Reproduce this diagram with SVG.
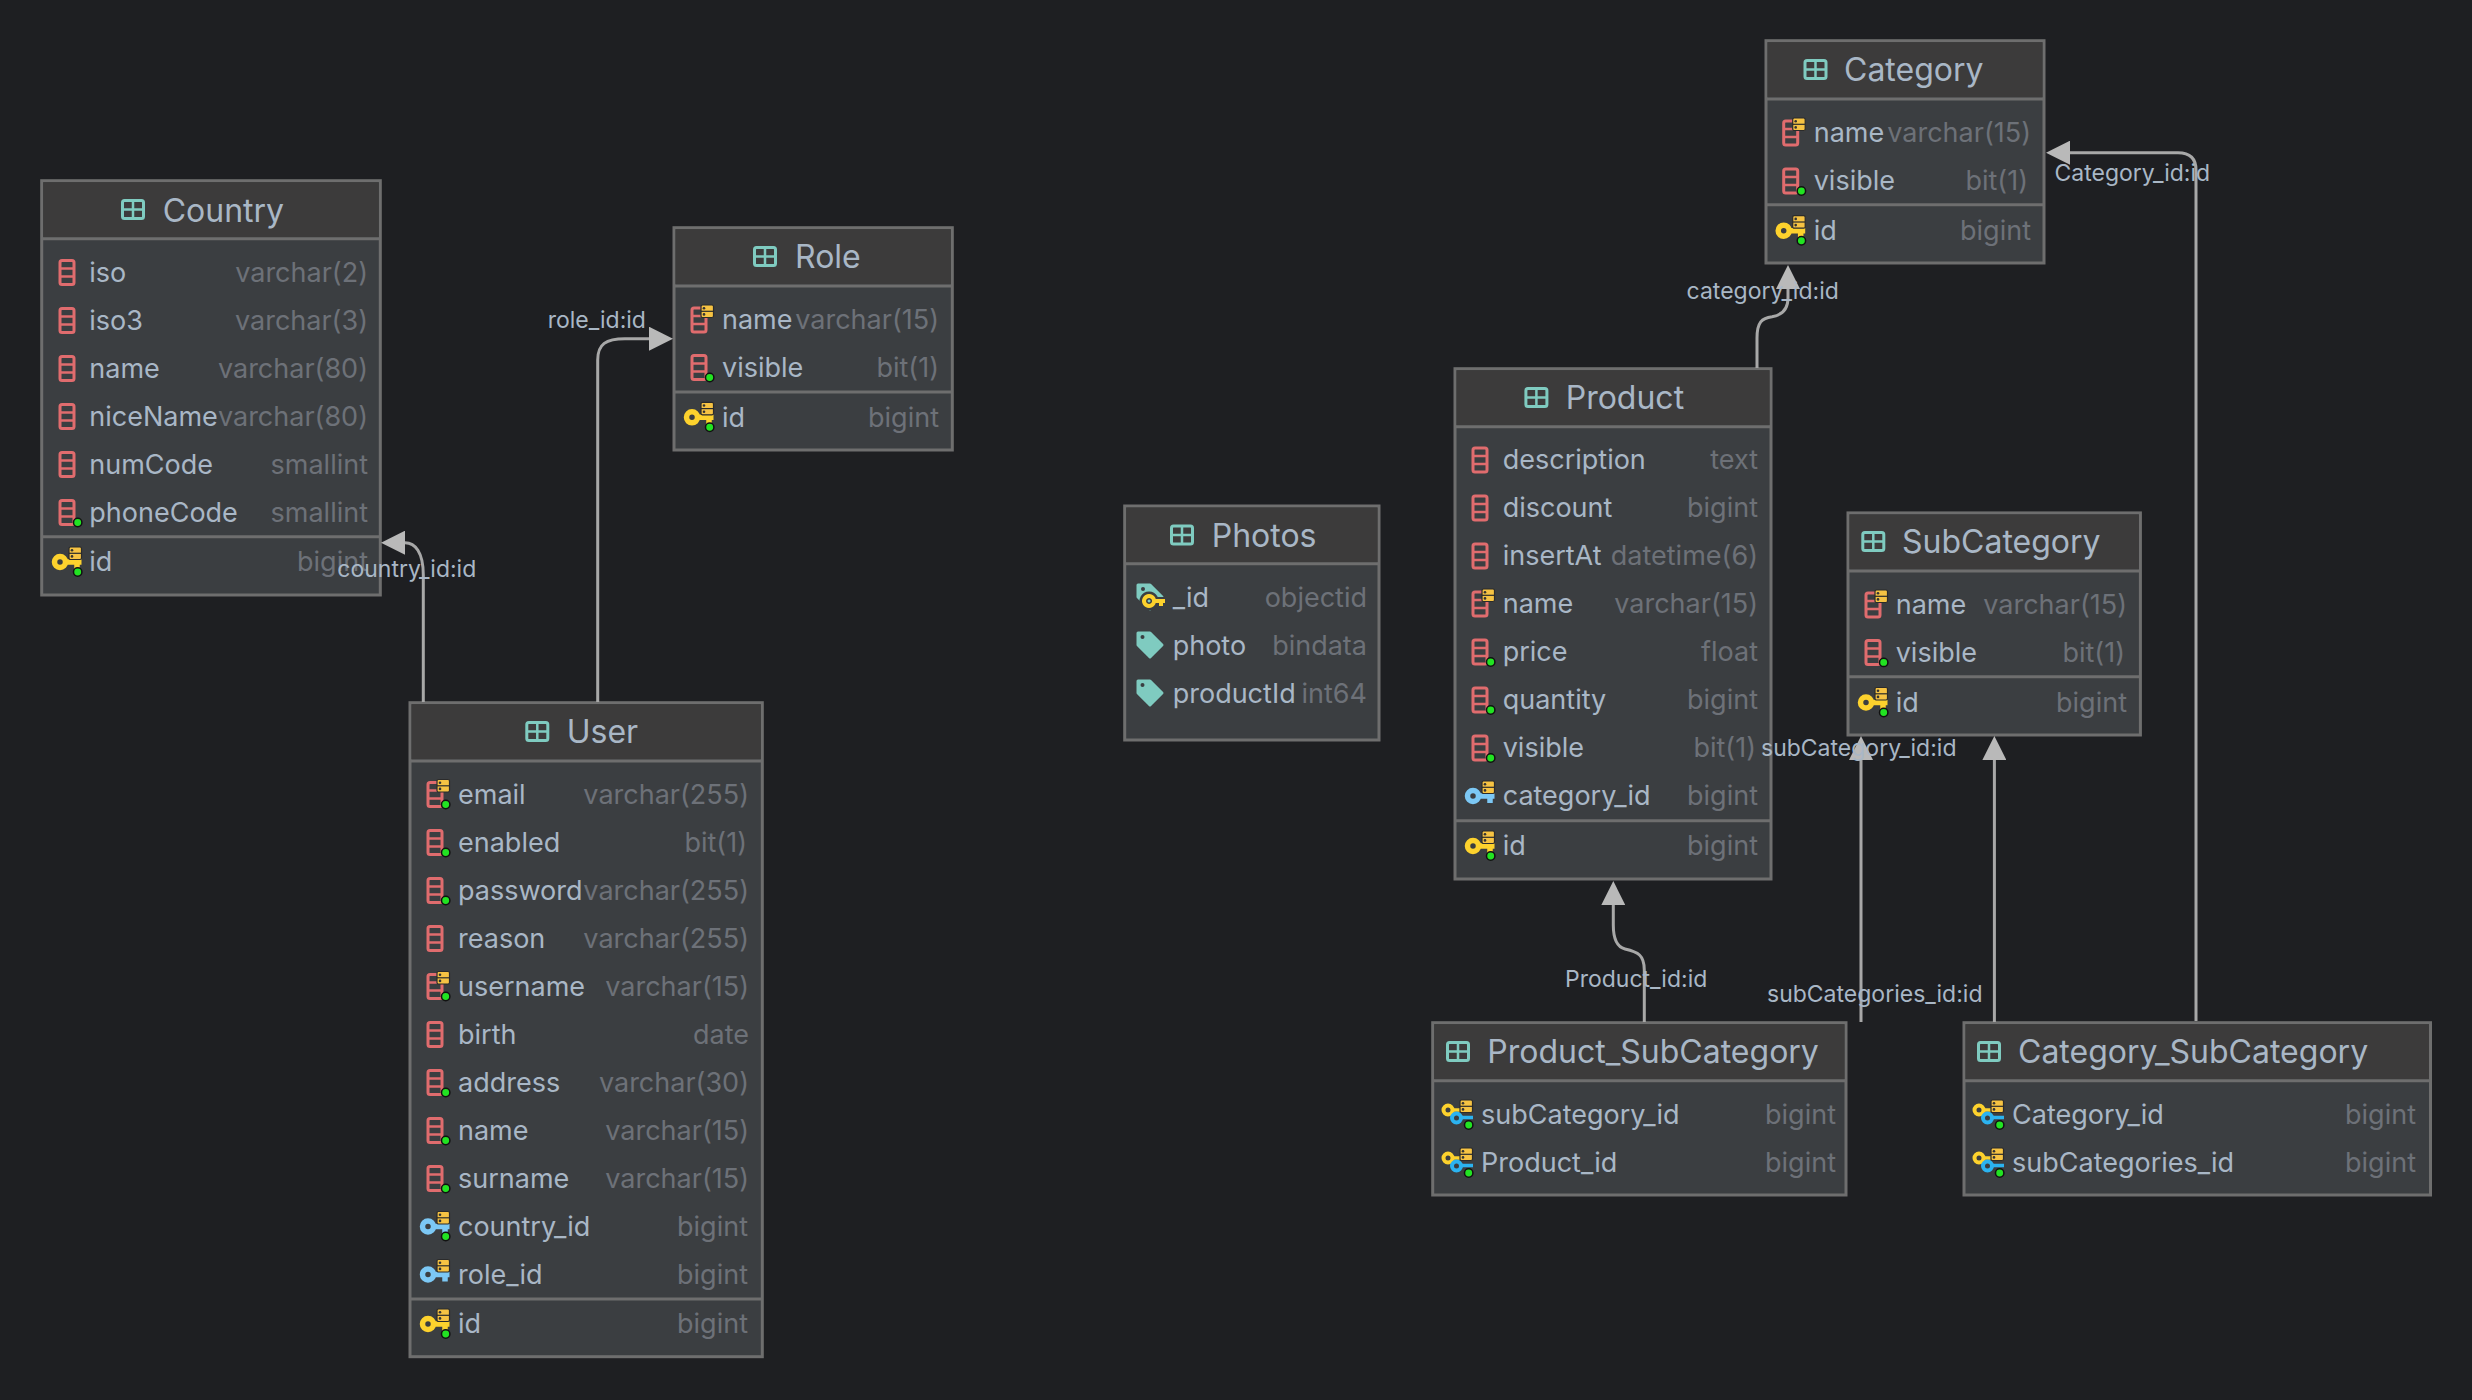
<svg xmlns="http://www.w3.org/2000/svg" width="2472" height="1400" viewBox="0 0 2472 1400">
<style>
text{font-family:Inter,"Liberation Sans",sans-serif}
.box{fill:#3b3e41;stroke:#6e6e6e;stroke-width:3}
.head{fill:#3c3b3b}
.sep{stroke:#6e6e6e;stroke-width:3}
.title{font-size:32px;fill:#a9b7c6}
.f{font-size:27px;fill:#a9b7c6}
.t{font-size:27px;fill:#6d7178;text-anchor:end}
.wire{fill:none;stroke:#a8a8a8;stroke-width:3;marker-end:url(#arrow)}
.lbl{font-size:23px;fill:#a9b7c6}
</style>
<defs>
<marker id="arrow" markerUnits="userSpaceOnUse" markerWidth="24" markerHeight="24" viewBox="0 0 24 24" refX="0" refY="12" orient="auto"><path d="M0 0L24 12L0 24Z" fill="#b9b9b9"/></marker>
<g id="tbl"><rect x="1.5" y="1.5" width="21" height="18" rx="2" fill="none" stroke="#7fcbc0" stroke-width="3"/><path d="M2 10.500H22M12 2V19" stroke="#7fcbc0" stroke-width="2.500"/></g>
<g id="col"><rect x="-7" y="-12" width="14" height="24" rx="2" fill="none" stroke="#e06c6e" stroke-width="3"/><path d="M-7 -4H7M-7 4H7" stroke="#e06c6e" stroke-width="2.500"/></g>
<g id="idx"><rect x="2" y="-15" width="12.500" height="12.500" rx="1.500" fill="#f6c343" stroke="#2b2b2b" stroke-width="1.200"/><path d="M2 -8.700H14.500" stroke="#2b2b2b" stroke-width="1.200"/><circle cx="5" cy="-11.800" r="1.300" fill="#333"/><circle cx="5" cy="-5.600" r="1.300" fill="#333"/></g>
<g id="nn"><circle cx="10.700" cy="10" r="4.200" fill="#22e322" stroke="#111" stroke-width="1.500"/></g>
<path id="keyshape" d="M-7 -5.500A5.500 5.500 0 1 1 -7 5.500A5.500 5.500 0 1 1 -7 -5.500ZM-2 0H14.500M10 0V7" fill="none" stroke-width="5.500"/>
<g id="pk"><use href="#keyshape" stroke="#fdd22d"/><use href="#idx"/><use href="#nn"/></g>
<g id="fk"><use href="#keyshape" stroke="#7cc8f5"/><use href="#idx"/></g>
<g id="fknn"><use href="#fk"/><use href="#nn"/></g>
<g id="pfk"><circle cx="-10" cy="-5" r="4.500" fill="none" stroke="#fdd22d" stroke-width="4"/><path d="M-6 -5H6" stroke="#fdd22d" stroke-width="3.500"/><use href="#idx"/><circle cx="-1.500" cy="3" r="4.500" fill="none" stroke="#2bb3f0" stroke-width="4"/><path d="M2 2.500H15" stroke="#2bb3f0" stroke-width="3.500"/><use href="#nn"/></g>
<path id="tag" d="M-11 -13H1L13 -1L1 11L-11 -1Z" fill="#7fcbc0" stroke="#7fcbc0" stroke-width="3" stroke-linejoin="round"/>
<clipPath id="c1"><rect x="1500" y="440" width="152" height="40"/></clipPath>
<clipPath id="c2"><rect x="1500" y="775" width="152" height="45"/></clipPath>
<clipPath id="c3"><rect x="1478" y="1095" width="202" height="40"/></clipPath>
<clipPath id="c4"><rect x="1478" y="1143" width="140" height="40"/></clipPath>
<clipPath id="c5"><rect x="2008" y="1095" width="157" height="40"/></clipPath>
<clipPath id="c6"><rect x="2008" y="1143" width="225" height="40"/></clipPath>
</defs>
<rect width="2472" height="1400" fill="#1e1f22"/>

<g id="node-Country">
<rect class="box" x="41.700" y="180.700" width="338.600" height="414.300"/><rect class="head" x="43.200" y="182.200" width="335.600" height="55"/><path class="sep" d="M43 238.700H379M43 536.700H379"/>
<use href="#tbl" x="121" y="199"/><text class="title" x="162.700" y="221.700">Country</text>
<use href="#col" x="67" y="272.500"/><text class="f" x="89.300" y="281.700">iso</text><text class="t" x="368" y="281.700">varchar(2)</text>
<use href="#col" x="67" y="320.500"/><text class="f" x="89.300" y="329.700">iso3</text><text class="t" x="368" y="329.700">varchar(3)</text>
<use href="#col" x="67" y="368.500"/><text class="f" x="89.300" y="377.700">name</text><text class="t" x="368" y="377.700">varchar(80)</text>
<use href="#col" x="67" y="416.500"/><text class="f" x="89.300" y="425.700">niceName</text><text class="t" x="368" y="425.700">varchar(80)</text>
<use href="#col" x="67" y="464.500"/><text class="f" x="89.300" y="473.700">numCode</text><text class="t" x="368" y="473.700">smallint</text>
<use href="#col" x="67" y="512.500"/><use href="#nn" x="67" y="512.500"/><text class="f" x="89.300" y="521.700">phoneCode</text><text class="t" x="368" y="521.700">smallint</text>
<use href="#pk" x="67" y="562"/><text class="f" x="89.300" y="571">id</text><text class="t" x="368" y="571">bigint</text>
</g>

<g id="node-Role">
<rect class="box" x="674" y="227.700" width="278.300" height="222.300"/><rect class="head" x="675.500" y="229.200" width="275.300" height="55"/><path class="sep" d="M675 286H951M675 392H951"/>
<use href="#tbl" x="753" y="246"/><text class="title" x="795" y="268.300">Role</text>
<use href="#col" x="699" y="320"/><use href="#idx" x="699" y="320"/><text class="f" x="722" y="329">name</text><text class="t" x="939" y="329">varchar(15)</text>
<use href="#col" x="699" y="367.500"/><use href="#nn" x="699" y="367.500"/><text class="f" x="722" y="377">visible</text><text class="t" x="939" y="377">bit(1)</text>
<use href="#pk" x="699" y="417.300"/><text class="f" x="722" y="426.500">id</text><text class="t" x="939" y="426.500">bigint</text>
</g>

<g id="node-User">
<rect class="box" x="410" y="702.700" width="352.300" height="654"/><rect class="head" x="411.500" y="704.200" width="349.300" height="55"/><path class="sep" d="M411 761H761M411 1299H761"/>
<use href="#tbl" x="525.300" y="721"/><text class="title" x="566.700" y="743.300">User</text>
<use href="#col" x="435" y="794.500"/><use href="#idx" x="435" y="794.500"/><use href="#nn" x="435" y="794.500"/><text class="f" x="458" y="803.500">email</text><text class="t" x="749" y="803.500">varchar(255)</text>
<use href="#col" x="435" y="842.500"/><use href="#nn" x="435" y="842.500"/><text class="f" x="458" y="851.500">enabled</text><text class="t" x="747" y="851.500">bit(1)</text>
<use href="#col" x="435" y="890.500"/><use href="#nn" x="435" y="890.500"/><text class="f" x="458" y="899.500">password</text><text class="t" x="749" y="899.500">varchar(255)</text>
<use href="#col" x="435" y="938.500"/><text class="f" x="458" y="947.500">reason</text><text class="t" x="749" y="947.500">varchar(255)</text>
<use href="#col" x="435" y="986.500"/><use href="#idx" x="435" y="986.500"/><use href="#nn" x="435" y="986.500"/><text class="f" x="458" y="995.500">username</text><text class="t" x="749" y="995.500">varchar(15)</text>
<use href="#col" x="435" y="1034.500"/><text class="f" x="458" y="1043.500">birth</text><text class="t" x="749" y="1043.500">date</text>
<use href="#col" x="435" y="1082.500"/><use href="#nn" x="435" y="1082.500"/><text class="f" x="458" y="1091.500">address</text><text class="t" x="749" y="1091.500">varchar(30)</text>
<use href="#col" x="435" y="1130.500"/><use href="#nn" x="435" y="1130.500"/><text class="f" x="458" y="1139.500">name</text><text class="t" x="749" y="1139.500">varchar(15)</text>
<use href="#col" x="435" y="1178.500"/><use href="#nn" x="435" y="1178.500"/><text class="f" x="458" y="1187.500">surname</text><text class="t" x="749" y="1187.500">varchar(15)</text>
<use href="#fknn" x="435" y="1226.500"/><text class="f" x="458" y="1235.500">country_id</text><text class="t" x="748" y="1235.500">bigint</text>
<use href="#fk" x="435" y="1274.500"/><text class="f" x="458" y="1283.500">role_id</text><text class="t" x="748" y="1283.500">bigint</text>
<use href="#pk" x="435" y="1324"/><text class="f" x="458" y="1333">id</text><text class="t" x="748" y="1333">bigint</text>
</g>

<g id="node-Photos">
<rect class="box" x="1124.700" y="506" width="254.300" height="234"/><rect class="head" x="1126.200" y="507.500" width="251.300" height="55"/><path class="sep" d="M1126 563.700H1378"/>
<use href="#tbl" x="1170" y="524.500"/><text class="title" x="1211.700" y="546.700">Photos</text>
<use href="#tag" x="1149" y="598"/><circle cx="1143" cy="589" r="2" fill="#3b3e41"/><path d="M1149 595.500a5.500 5.500 0 1 0 .1 0ZM1153 601H1165M1161 601V607" fill="none" stroke="#3b3e41" stroke-width="8"/><path d="M1149 596a5 5 0 1 0 .1 0ZM1153 601H1165M1161 601V606" fill="none" stroke="#fdd22d" stroke-width="4"/><text class="f" x="1172.700" y="607">_id</text><text class="t" x="1367" y="607">objectid</text>
<use href="#tag" x="1149" y="646"/><circle cx="1142.500" cy="637" r="2" fill="#3b3e41"/><text class="f" x="1172.700" y="655">photo</text><text class="t" x="1367" y="655">bindata</text>
<use href="#tag" x="1149" y="694"/><circle cx="1142.500" cy="685" r="2" fill="#3b3e41"/><text class="f" x="1172.700" y="703">productId</text><text class="t" x="1367" y="703">int64</text>
</g>

<g id="node-Category">
<rect class="box" x="1766" y="40.700" width="278" height="222.300"/><rect class="head" x="1767.500" y="42.200" width="275" height="55"/><path class="sep" d="M1767 99H2043M1767 204.700H2043"/>
<use href="#tbl" x="1803.500" y="59"/><text class="title" x="1844" y="81">Category</text>
<use href="#col" x="1790.700" y="133"/><use href="#idx" x="1790.700" y="133"/><text class="f" x="1813.700" y="142">name</text><text class="t" x="2031" y="142">varchar(15)</text>
<use href="#col" x="1790.700" y="181"/><use href="#nn" x="1790.700" y="181"/><text class="f" x="1813.700" y="190">visible</text><text class="t" x="2028" y="190">bit(1)</text>
<use href="#pk" x="1790.700" y="230.700"/><text class="f" x="1813.700" y="240">id</text><text class="t" x="2031" y="240">bigint</text>
</g>

<g id="node-Product">
<rect class="box" x="1455" y="368.700" width="316" height="510.300"/><rect class="head" x="1456.500" y="370.200" width="313" height="55"/><path class="sep" d="M1456 426.700H1770M1456 820.700H1770"/>
<use href="#tbl" x="1524.400" y="387"/><text class="title" x="1565.700" y="409.300">Product</text>
<use href="#col" x="1480" y="460"/><text class="f" x="1502.700" y="469" clip-path="url(#c1)">description</text><text class="t" x="1758" y="469">text</text>
<use href="#col" x="1480" y="508"/><text class="f" x="1502.700" y="517">discount</text><text class="t" x="1758" y="517">bigint</text>
<use href="#col" x="1480" y="556"/><text class="f" x="1502.700" y="565">insertAt</text><text class="t" x="1758" y="565">datetime(6)</text>
<use href="#col" x="1480" y="604"/><use href="#idx" x="1480" y="604"/><text class="f" x="1502.700" y="613">name</text><text class="t" x="1758" y="613">varchar(15)</text>
<use href="#col" x="1480" y="652"/><use href="#nn" x="1480" y="652"/><text class="f" x="1502.700" y="661">price</text><text class="t" x="1758" y="661">float</text>
<use href="#col" x="1480" y="700"/><use href="#nn" x="1480" y="700"/><text class="f" x="1502.700" y="709">quantity</text><text class="t" x="1758" y="709">bigint</text>
<use href="#col" x="1480" y="748"/><use href="#nn" x="1480" y="748"/><text class="f" x="1502.700" y="757">visible</text><text class="t" x="1756" y="757">bit(1)</text>
<use href="#fk" x="1480" y="796"/><text class="f" x="1502.700" y="805" clip-path="url(#c2)">category_id</text><text class="t" x="1758" y="805">bigint</text>
<use href="#pk" x="1480" y="846"/><text class="f" x="1502.700" y="855">id</text><text class="t" x="1758" y="855">bigint</text>
</g>

<g id="node-SubCategory">
<rect class="box" x="1848" y="512.900" width="292.400" height="222.100"/><rect class="head" x="1849.500" y="514.400" width="289.400" height="55"/><path class="sep" d="M1849 571H2139M1849 676.800H2139"/>
<use href="#tbl" x="1861.300" y="531"/><text class="title" x="1902" y="553">SubCategory</text>
<use href="#col" x="1873" y="605"/><use href="#idx" x="1873" y="605"/><text class="f" x="1895.700" y="614">name</text><text class="t" x="2127" y="614">varchar(15)</text>
<use href="#col" x="1873" y="652.400"/><use href="#nn" x="1873" y="652.400"/><text class="f" x="1895.700" y="662">visible</text><text class="t" x="2125" y="662">bit(1)</text>
<use href="#pk" x="1873" y="702.500"/><text class="f" x="1895.700" y="712">id</text><text class="t" x="2127" y="712">bigint</text>
</g>

<g id="node-Product_SubCategory">
<rect class="box" x="1432.700" y="1022.700" width="413.300" height="172.300"/><rect class="head" x="1434.200" y="1024.200" width="410.300" height="55"/><path class="sep" d="M1434 1080.700H1845"/>
<use href="#tbl" x="1446" y="1041"/><text class="title" x="1487.300" y="1063.300">Product_SubCategory</text>
<use href="#pfk" x="1458" y="1115"/><text class="f" x="1481" y="1124" clip-path="url(#c3)">subCategory_id</text><text class="t" x="1862" y="1124" style="text-anchor:end" dx="-26">bigint</text>
<use href="#pfk" x="1458" y="1163"/><text class="f" x="1481" y="1172" clip-path="url(#c4)">Product_id</text><text class="t" x="1836" y="1172">bigint</text>
</g>

<g id="node-Category_SubCategory">
<rect class="box" x="1964" y="1022.700" width="466.500" height="172.300"/><rect class="head" x="1965.500" y="1024.200" width="463.500" height="55"/><path class="sep" d="M1965 1080.700H2430"/>
<use href="#tbl" x="1977" y="1041"/><text class="title" x="2018" y="1063.300">Category_SubCategory</text>
<use href="#pfk" x="1989" y="1115"/><text class="f" x="2012" y="1124" clip-path="url(#c5)">Category_id</text><text class="t" x="2416" y="1124">bigint</text>
<use href="#pfk" x="1989" y="1163"/><text class="f" x="2012" y="1172" clip-path="url(#c6)">subCategories_id</text><text class="t" x="2416" y="1172">bigint</text>
</g>

<g id="connectors">
<path class="wire" d="M423.300 702V575C423.300 552 415 542.700 405 542.700"/>
<path class="wire" d="M597.700 702V360C597.700 344 606 338.700 625 338.700H649"/>
<path class="wire" d="M1757 368V338C1757 322 1762 318 1772 316.700C1782 315 1788 310 1788 298V289"/>
<path class="wire" d="M2196 1021V170C2196 158 2190 152.700 2178 152.700H2070"/>
<path class="wire" d="M1644.300 1022V970C1644.300 955 1638 952 1625 949C1617 947 1613.300 940 1613.300 925V905"/>
<path class="wire" d="M1861 1022V760"/>
<path class="wire" d="M1994.400 1022V760"/>
<text class="lbl" x="337.300" y="577">country_id:id</text>
<text class="lbl" x="547.700" y="328">role_id:id</text>
<text class="lbl" x="1686.600" y="299.300">category_id:id</text>
<text class="lbl" x="2054.500" y="181">Category_id:id</text>
<text class="lbl" x="1565" y="986.700">Product_id:id</text>
<text class="lbl" x="1761" y="756">subCategory_id:id</text>
<text class="lbl" x="1767" y="1002">subCategories_id:id</text>
</g>
</svg>
